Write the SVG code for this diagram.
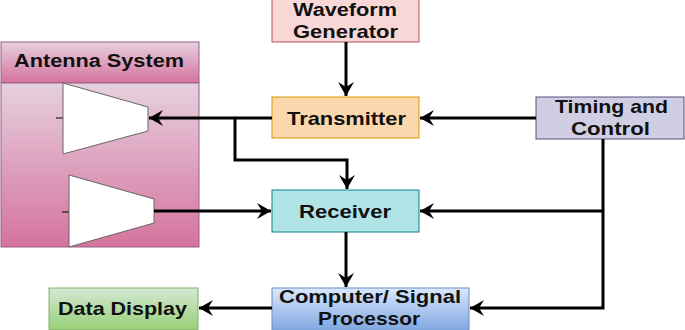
<svg xmlns="http://www.w3.org/2000/svg" width="685" height="330" viewBox="0 0 685 330">
<defs>
<linearGradient id="gPink" x1="0" y1="0" x2="0" y2="1"><stop offset="0" stop-color="#e6d0de"/><stop offset="1" stop-color="#d5739d"/></linearGradient>
<linearGradient id="gGreen" x1="0" y1="0" x2="0" y2="1"><stop offset="0" stop-color="#d5e8d4"/><stop offset="1" stop-color="#97d077"/></linearGradient>
<linearGradient id="gBlue" x1="0" y1="0" x2="0" y2="1"><stop offset="0" stop-color="#dae8fc"/><stop offset="1" stop-color="#7ea6e0"/></linearGradient>
<marker id="arr" markerUnits="userSpaceOnUse" viewBox="-15 -9 16 18" refX="0" refY="0" markerWidth="16" markerHeight="18" orient="auto" overflow="visible">
<path d="M0,0 L-14,-8 L-9,0 L-14,8 Z" fill="#000"/>
</marker>
<style>
.t{font-family:"Liberation Sans",Arial,sans-serif;font-weight:bold;font-size:18.5px;fill:#111;text-anchor:middle}
.c{fill:none;stroke:#000;stroke-width:3}
.a{marker-end:url(#arr)}
.ant{fill:#fff;stroke:#666;stroke-width:1}
.tick{stroke:#000;stroke-width:1}
</style>
</defs>
<rect width="685" height="330" fill="#fff"/>
<g id="antenna-system">
<rect x="1" y="42" width="198" height="41" fill="url(#gPink)" stroke="#996185"/>
<rect x="1" y="83" width="198" height="164" fill="url(#gPink)" stroke="#996185"/>
<text class="t" x="99" y="67" style="font-size:17.5px" textLength="170" lengthAdjust="spacingAndGlyphs">Antenna System</text>
<line class="tick" x1="56" y1="118" x2="63" y2="118"/>
<polygon class="ant" points="63,83 148,107 148,131 63,154"/>
<line class="tick" x1="62" y1="212" x2="69" y2="212"/>
<polygon class="ant" points="69,175 154,199 154,223 69,247"/>
</g>
<g id="waveform-generator">
<rect x="272" y="-2" width="147" height="44" fill="#f8d7d6" stroke="#b85450"/>
<text class="t" x="345" y="16" style="font-size:17.5px" textLength="104" lengthAdjust="spacingAndGlyphs">Waveform</text>
<text class="t" x="345.5" y="37.5" textLength="105" lengthAdjust="spacingAndGlyphs">Generator</text>
</g>
<g id="transmitter">
<rect x="272" y="97" width="147" height="41" fill="#fad7ac" stroke="#d79b00"/>
<text class="t" x="346.5" y="124.5" textLength="119" lengthAdjust="spacingAndGlyphs">Transmitter</text>
</g>
<g id="timing-control">
<rect x="536" y="97" width="148" height="42" fill="#d0cee2" stroke="#56517e"/>
<text class="t" x="611.5" y="113" textLength="113" lengthAdjust="spacingAndGlyphs">Timing and</text>
<text class="t" x="610.5" y="135" textLength="79" lengthAdjust="spacingAndGlyphs">Control</text>
</g>
<g id="receiver">
<rect x="272" y="190" width="147" height="42" fill="#b0e3e6" stroke="#0e8088"/>
<text class="t" x="345" y="217.5" textLength="92" lengthAdjust="spacingAndGlyphs">Receiver</text>
</g>
<g id="signal-processor">
<rect x="272" y="288" width="197" height="43" fill="url(#gBlue)" stroke="#6c8ebf"/>
<text class="t" x="370" y="303" textLength="182" lengthAdjust="spacingAndGlyphs">Computer/ Signal</text>
<text class="t" x="369" y="325" textLength="102" lengthAdjust="spacingAndGlyphs">Processor</text>
</g>
<g id="data-display">
<rect x="49" y="288" width="149" height="42" fill="url(#gGreen)" stroke="#82b366"/>
<text class="t" x="122.5" y="315" textLength="129" lengthAdjust="spacingAndGlyphs">Data Display</text>
</g>
<g id="connectors">
<path class="c a" d="M346,42 V96"/>
<path class="c a" d="M272,118 H149"/>
<path class="c a" d="M235,118 V160 H347 V189"/>
<path class="c a" d="M154,211 H271"/>
<path class="c a" d="M536,118 H420"/>
<path class="c a" d="M603,139 V308 H470"/>
<path class="c a" d="M603,211 H420"/>
<path class="c a" d="M346,232 V287"/>
<path class="c a" d="M272,308 H199"/>
</g>
</svg>
